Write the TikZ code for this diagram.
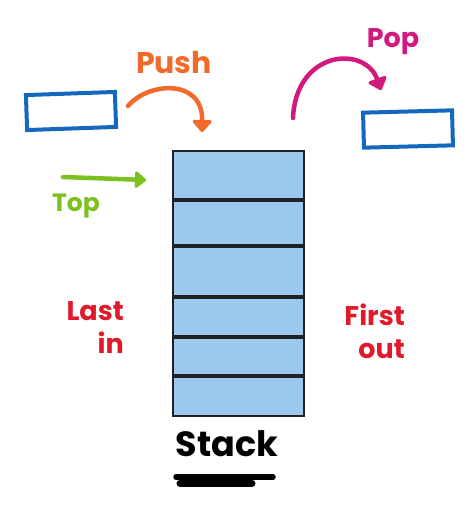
\documentclass[tikz,border=0pt]{standalone}
\usepackage{fontspec}
\setmainfont{Poppins}
\usetikzlibrary{positioning,arrows.meta}
\definecolor{cellblue}{HTML}{9DC8EE}
\definecolor{cellline}{HTML}{1E2126}
\definecolor{boxblue}{HTML}{1468BE}
\definecolor{pushorange}{HTML}{F26A2B}
\definecolor{popmagenta}{HTML}{D21A7E}
\definecolor{topgreen}{HTML}{7CC11F}
\definecolor{lifored}{HTML}{E0192B}
\begin{document}
\begin{tikzpicture}[x=1pt, y=-1pt, font=\bfseries,
  cell/.style = {shape=rectangle, draw=cellline, fill=cellblue, line width=2pt, minimum width=131pt, inner sep=0pt},
  box/.style = {shape=rectangle, draw=boxblue, line width=4pt, minimum width=89pt, minimum height=35pt},
  curvy/.style = {line width=4.5pt, line cap=round, -{Triangle[length=13pt,width=22pt,round]}},
  note/.style = {text=lifored, align=right, inner sep=0pt, font=\bfseries\fontsize{27}{33}\selectfont}]
\useasboundingbox (0,0) rectangle (474,507);
% the stack
\node[cell, minimum height=48pt, anchor=north] (c1) at (238,150) {};
\node[cell, minimum height=44pt, below=0pt of c1] (c2) {};
\node[cell, minimum height=49pt, below=0pt of c2] (c3) {};
\node[cell, minimum height=38pt, below=0pt of c3] (c4) {};
\node[cell, minimum height=37pt, below=0pt of c4] (c5) {};
\node[cell, minimum height=39pt, below=0pt of c5] (c6) {};
% elements going in and out
\node[box, rotate=2] (inbox) at (71,111) {};
\node[box, rotate=1.5] (outbox) at (408,129) {};
\node[text=pushorange, font=\bfseries\fontsize{30}{34}\selectfont] (push) at (174,63) {Push};
\node[text=popmagenta, font=\bfseries\fontsize{27}{30}\selectfont] (pop) at (393,42) {Pop};
\coordinate (pushs) at (128,106);
\coordinate (pushe) at (202,132);
\coordinate (pops) at (293,118);
\coordinate (pope) at (381,90);
\draw[curvy, pushorange] (pushs) .. controls (148,82) and (203,78) .. (pushe);
\draw[curvy, popmagenta] (pops) .. controls (296,50) and (365,45) .. (pope);
% top pointer
\coordinate (topt) at (63,177);
\coordinate (toph) at (146,180);
\draw[topgreen, line width=4.5pt, line cap=round, -{Triangle[length=12pt,width=19pt,round]}] (topt) -- (toph);
\node[text=topgreen, font=\bfseries\fontsize{25}{30}\selectfont] (top) at (76,206) {Top};
% lifo
\node[note, anchor=east] (last) at (124,328) {Last\\in};
\node[note, anchor=east] (first) at (405,331) {First\\out};
\node[font=\bfseries\fontsize{35}{40}\selectfont] (stack) at (227,444) {Stack};
\draw[line width=5.5pt, line cap=round] ([shift={(-51pt,-33pt)}]stack.center) coordinate (u1) -- ++(97pt,0pt);
\draw[line width=7pt, line cap=round] ([shift={(-47pt,-39pt)}]stack.center) coordinate (u2) -- ++(72pt,0pt);
\end{tikzpicture}
\end{document}
